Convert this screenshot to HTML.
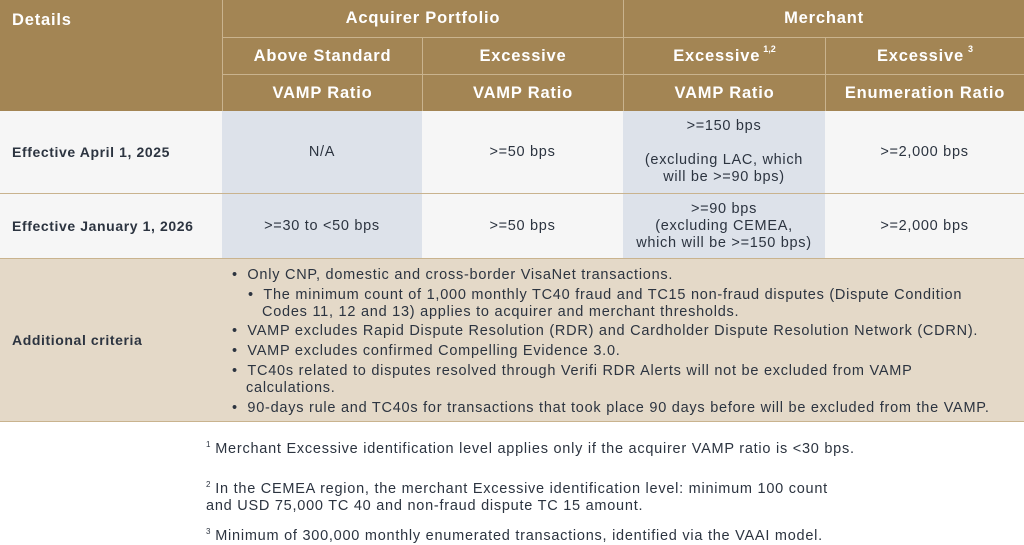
<!DOCTYPE html>
<html><head><meta charset="utf-8"><style>
*{margin:0;padding:0;box-sizing:border-box}
body{width:1024px;height:545px;background:#fff;font-family:"Liberation Sans",sans-serif;color:#2c3440;position:relative;overflow:hidden}
.a{position:absolute}
.h{background:#a38554;color:#fff;font-weight:bold;font-size:16.5px;letter-spacing:0.8px;display:flex;align-items:center;justify-content:center}
.c{display:flex;align-items:center;justify-content:center;text-align:center;font-size:14.5px;letter-spacing:0.7px;line-height:17px}
.l{font-weight:bold;font-size:14px;letter-spacing:0.6px;display:flex;align-items:center;padding-left:12px}
.t{font-size:14.5px;letter-spacing:0.75px;line-height:17px;white-space:nowrap}
sup{letter-spacing:0}
</style></head><body>
<div class="a h" style="left:0;top:0;width:222px;height:111px;align-items:flex-start;justify-content:flex-start;padding:11px 12px">Details</div>
<div class="a h" style="left:222px;top:0;width:401px;height:37px;border-left:1px solid #c9b38e">Acquirer Portfolio</div>
<div class="a h" style="left:623px;top:0;width:401px;height:37px;border-left:1px solid #c9b38e">Merchant</div>
<div class="a" style="left:222px;top:37px;width:802px;height:1px;background:#c9b38e"></div>
<div class="a h" style="left:222px;top:38px;width:200px;height:37px;border-left:1px solid #c9b38e">Above Standard</div>
<div class="a h" style="left:422px;top:38px;width:201px;height:37px;border-left:1px solid #c9b38e">Excessive</div>
<div class="a h" style="left:623px;top:38px;width:202px;height:37px;border-left:1px solid #c9b38e">Excessive<sup style="font-size:9px;margin-left:3px;align-self:flex-start;margin-top:6px">1,2</sup></div>
<div class="a h" style="left:825px;top:38px;width:199px;height:37px;border-left:1px solid #c9b38e">Excessive<sup style="font-size:9px;margin-left:4px;align-self:flex-start;margin-top:6px">3</sup></div>
<div class="a" style="left:222px;top:74px;width:802px;height:1px;background:#c9b38e"></div>
<div class="a h" style="left:222px;top:75px;width:200px;height:36px;border-left:1px solid #c9b38e">VAMP Ratio</div>
<div class="a h" style="left:422px;top:75px;width:201px;height:36px;border-left:1px solid #c9b38e">VAMP Ratio</div>
<div class="a h" style="left:623px;top:75px;width:202px;height:36px;border-left:1px solid #c9b38e">VAMP Ratio</div>
<div class="a h" style="left:825px;top:75px;width:199px;height:36px;border-left:1px solid #c9b38e">Enumeration Ratio</div>

<div class="a" style="left:0;top:111px;width:1024px;height:147px;background:#f6f6f6"></div>
<div class="a" style="left:222px;top:111px;width:200px;height:147px;background:#dde2ea"></div>
<div class="a" style="left:623px;top:111px;width:202px;height:147px;background:#dde2ea"></div>
<div class="a" style="left:0;top:193px;width:1024px;height:1px;background:#c9b38e"></div>

<div class="a l" style="left:0;top:111px;width:222px;height:82px">Effective April 1, 2025</div>
<div class="a c" style="left:222px;top:111px;width:200px;height:82px">N/A</div>
<div class="a c" style="left:422px;top:111px;width:201px;height:82px">&gt;=50 bps</div>
<div class="a c" style="left:623px;top:111px;width:202px;height:82px">&gt;=150 bps<br><br>(excluding LAC, which<br>will be &gt;=90 bps)</div>
<div class="a c" style="left:825px;top:111px;width:199px;height:82px">&gt;=2,000 bps</div>

<div class="a l" style="left:0;top:194px;width:222px;height:64px">Effective January 1, 2026</div>
<div class="a c" style="left:222px;top:194px;width:200px;height:64px">&gt;=30 to &lt;50 bps</div>
<div class="a c" style="left:422px;top:194px;width:201px;height:64px">&gt;=50 bps</div>
<div class="a c" style="left:623px;top:194px;width:202px;height:64px">&gt;=90 bps<br>(excluding CEMEA,<br>which will be &gt;=150 bps)</div>
<div class="a c" style="left:825px;top:194px;width:199px;height:64px">&gt;=2,000 bps</div>

<div class="a" style="left:0;top:258px;width:1024px;height:164px;background:#e4d9c8;border-top:1px solid #c9b38e;border-bottom:1px solid #c9b38e"></div>
<div class="a l" style="left:0;top:258px;width:222px;height:164px">Additional criteria</div>
<div class="a t" style="left:232px;top:266px;line-height:19.8px">
<div>•&nbsp;&nbsp;Only CNP, domestic and cross-border VisaNet transactions.</div>
<div style="padding-left:16px">•&nbsp;&nbsp;The minimum count of 1,000 monthly TC40 fraud and TC15 non-fraud disputes (Dispute Condition</div>
<div style="padding-left:30px;margin-top:-3px">Codes 11, 12 and 13) applies to acquirer and merchant thresholds.</div>
<div>•&nbsp;&nbsp;VAMP excludes Rapid Dispute Resolution (RDR) and Cardholder Dispute Resolution Network (CDRN).</div>
<div>•&nbsp;&nbsp;VAMP excludes confirmed Compelling Evidence 3.0.</div>
<div>•&nbsp;&nbsp;TC40s related to disputes resolved through Verifi RDR Alerts will not be excluded from VAMP</div>
<div style="padding-left:14px;margin-top:-3px">calculations.</div>
<div>•&nbsp;&nbsp;90-days rule and TC40s for transactions that took place 90 days before will be excluded from the VAMP.</div>
</div>

<div class="a t" style="left:206px;top:436px"><sup style="font-size:8px">1</sup> Merchant Excessive identification level applies only if the acquirer VAMP ratio is &lt;30 bps.</div>
<div class="a t" style="left:206px;top:476px"><sup style="font-size:8px">2</sup> In the CEMEA region, the merchant Excessive identification level: minimum 100 count<br>and USD 75,000 TC 40 and non-fraud dispute TC 15 amount.</div>
<div class="a t" style="left:206px;top:523px"><sup style="font-size:8px">3</sup> Minimum of 300,000 monthly enumerated transactions, identified via the VAAI model.</div>
</body></html>
